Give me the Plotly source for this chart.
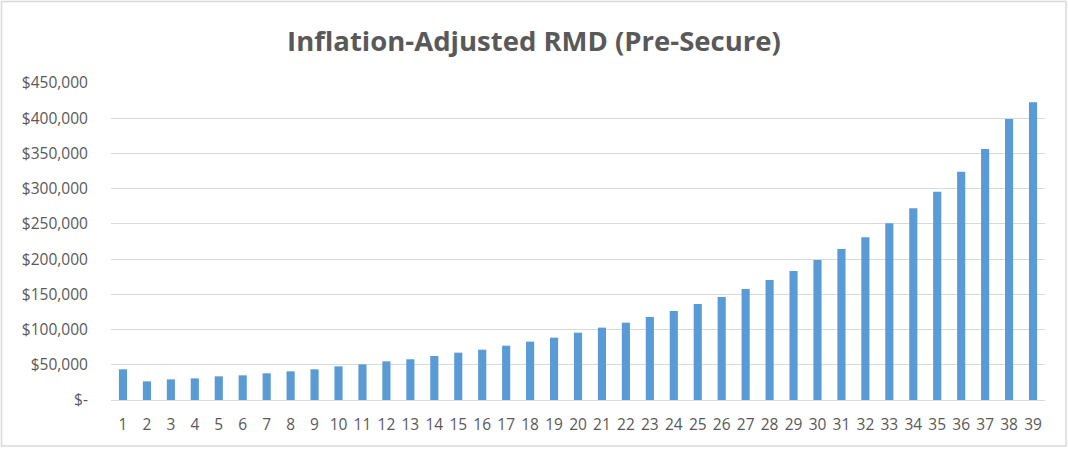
import plotly.graph_objects as go

# data
years = list(range(1, 40))
rmd = [43600, 26500, 29300, 30700, 33600, 35000, 37900, 40700, 43600, 47800,
       50600, 54900, 57800, 62500, 67200, 71400, 77100, 82800, 88500, 95600,
       102700, 109800, 117800, 126400, 136300, 146200, 157600, 170400, 183100, 198800,
       214400, 231000, 250800, 272100, 295700, 324100, 356300, 398900, 422600]
y_ticks = [0, 50000, 100000, 150000, 200000, 250000, 300000, 350000, 400000, 450000]
y_labels = ["$-"] + ["${:,}".format(v) for v in y_ticks[1:]]

W, H = 1068, 449
ml, mr, mt, mb = 111, 23, 83, 49
pw, ph = W - ml - mr, H - mt - mb

fig = go.Figure()
fig.add_trace(go.Bar(
    x=years, y=rmd, marker={'color': '#5b9bd5', 'line': {'width': 0}},
    width=0.34, name='RMD'))

fig.update_layout(
    width=W, height=H,
    margin=dict(l=ml, r=mr, t=mt, b=mb),
    paper_bgcolor='white', plot_bgcolor='white',
    showlegend=False,
    font=dict(family='Open Sans, sans-serif', color='#595959', size=15),
    title=dict(text='<b>Inflation-Adjusted RMD (Pre-Secure)</b>',
               x=0.5, xanchor='center', y=1 - 41.5 / H, yanchor='middle',
               font=dict(size=27.5, color='#595959')),
    bargap=0.66,
)
fig.update_xaxes(
    tickmode='array', tickvals=years, ticktext=[str(y) for y in years],
    range=[0.5, 39.5], showgrid=False, zeroline=False, showline=False,
    ticks='outside', ticklen=10, tickcolor='rgba(0,0,0,0)',
    tickfont=dict(size=15.5, color='#595959'))
fig.update_yaxes(
    tickmode='array', tickvals=y_ticks, ticktext=y_labels,
    range=[0, 450000], showgrid=True, gridcolor='#d9d9d9', gridwidth=1,
    zeroline=True, zerolinecolor='#d9d9d9', zerolinewidth=1, showline=False,
    ticks='outside', ticklen=19, tickcolor='rgba(0,0,0,0)',
    tickfont=dict(size=15.5, color='#595959'))

# outer chart frame (pixel box 1..1066 x 1..446)
fig.add_shape(type='rect', xref='paper', yref='paper',
              x0=(1.5 - ml) / pw, x1=(W - 2 - ml) / pw,
              y0=-(H - 3 - (mt + ph)) / ph, y1=1 + (mt - 1.5) / ph,
              line=dict(color='#d9d9d9', width=1.5), fillcolor='rgba(0,0,0,0)',
              layer='below')

# drop the default 8px body margin so the figure sits at the page corner
fig.write_html("out.html", config={'displayModeBar': False},
               post_script="document.body.style.margin='0px';document.body.style.overflow='hidden';")
